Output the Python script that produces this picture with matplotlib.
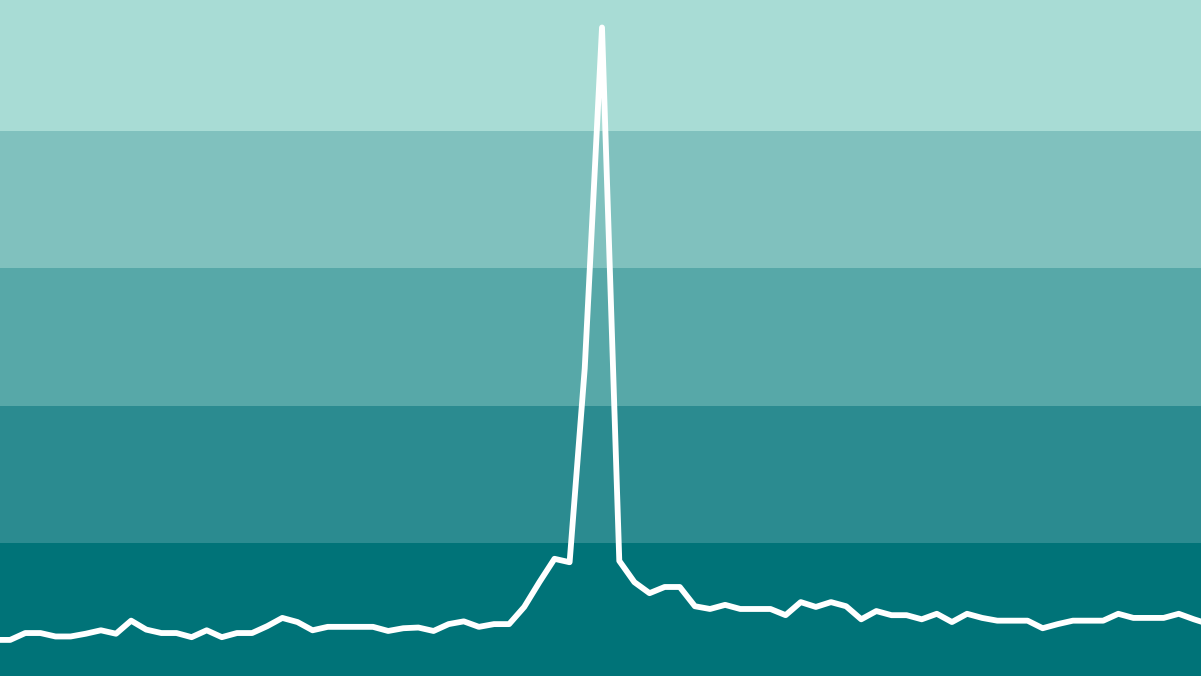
import numpy as np
import matplotlib
matplotlib.use("Agg")
import matplotlib.pyplot as plt

# days since first sample (weekly, with an irregular stretch around the spike)
days_before = [7 * i for i in range(39)]
days_spike = [273, 281]
days_after = [289 + 7 * i for i in range(40)]
days = days_before + days_spike + days_after

# values
values_before = [5.9, 5.9, 6.9, 6.9, 6.4, 6.4, 6.8, 7.3, 6.8, 8.7,
                 7.4, 6.9, 6.9, 6.3, 7.3, 6.3, 6.9, 6.9, 7.9, 9.1,
                 8.5, 7.3, 7.8, 7.8, 7.8, 7.8, 7.2, 7.6, 7.7, 7.2,
                 8.2, 8.6, 7.8, 8.2, 8.2, 10.7, 14.3, 17.7, 17.2]
values_spike = [45.4, 95.0]
values_after = [17.4, 14.3, 12.7, 13.6, 13.6, 10.8, 10.4, 11.0, 10.4, 10.4,
                10.4, 9.5, 11.4, 10.7, 11.4, 10.8, 8.9, 10.1, 9.5, 9.5,
                8.9, 9.7, 8.5, 9.7, 9.1, 8.7, 8.7, 8.7, 7.6, 8.2,
                8.7, 8.7, 8.7, 9.7, 9.1, 9.1, 9.1, 9.7, 8.9, 8.2]
values = values_before + values_spike + values_after

# horizontal bands behind the line
band_edges = [0, 20, 40, 60, 80, 120]
band_colors = ["#007378", "#2b8b90", "#57a8a8", "#80c1be", "#a8dcd5"]

fig = plt.figure(figsize=(12.01, 6.76), dpi=100)
ax = fig.add_axes([0, 0, 1, 1])

for lo, hi, c in zip(band_edges[:-1], band_edges[1:], band_colors):
    ax.axhspan(lo, hi, color=c, lw=0, zorder=0)

ax.plot(days, values, color="white", lw=4.2, solid_joinstyle="round",
        solid_capstyle="round", zorder=2)

ax.set_xlim(2.3, 558.3)
ax.set_ylim(0.65, 99.0)
ax.axis("off")

fig.savefig("out.png", dpi=100)
